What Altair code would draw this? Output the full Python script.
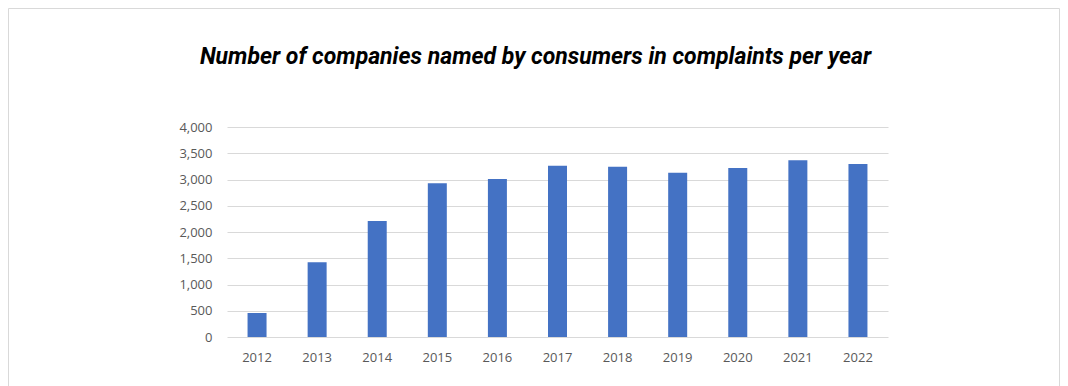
import altair as alt
import pandas as pd

years = ["2012", "2013", "2014", "2015", "2016", "2017", "2018", "2019", "2020", "2021", "2022"]
counts = [457, 1422, 2210, 2927, 3010, 3263, 3244, 3130, 3219, 3365, 3295]
y_ticks = [0, 500, 1000, 1500, 2000, 2500, 3000, 3500, 4000]
title_text = "Number of companies named by consumers in complaints per year"

df = pd.DataFrame({"year": years, "count": counts})
title_df = pd.DataFrame({"t": [title_text]})
frame_df = pd.DataFrame({"k": [1]})

W, H = 661, 210
PAD_L, PAD_T, PAD_R, PAD_B = 219, 119, 172, 49

label_font = "Open Sans"
label_color = "#595959"

bars = alt.Chart(df).mark_bar(width=19, color="#4472c4").encode(
    x=alt.X(
        "year:N",
        sort=years,
        scale=alt.Scale(paddingInner=0, paddingOuter=0),
        axis=alt.Axis(
            title=None, labelAngle=0, ticks=False, domain=False,
            labelPadding=14, labelFontSize=13, labelColor=label_color,
            labelFont=label_font, grid=False,
        ),
    ),
    y=alt.Y(
        "count:Q",
        scale=alt.Scale(domain=[0, 4000], nice=False),
        axis=alt.Axis(
            title=None, values=y_ticks, format=",.0f", ticks=False, domain=False,
            labelPadding=15, labelFontSize=13, labelColor=label_color,
            labelFont=label_font, grid=True, gridColor="#d9d9d9", gridWidth=1,
        ),
    ),
)

title = alt.Chart(title_df).mark_text(
    font="Roboto", fontSize=23, fontWeight="bold", fontStyle="italic",
    color="#000000", align="center", baseline="alphabetic",
).encode(
    text="t:N",
    x=alt.value(308.5),
    y=alt.value(-63),
)

frame = alt.Chart(frame_df).mark_rect(
    fill=None, stroke="#d9d9d9", strokeWidth=1
).encode(
    x=alt.value(-PAD_L + 0.5),
    x2=alt.value(W + PAD_R - 0.5),
    y=alt.value(-PAD_T + 0.5),
    y2=alt.value(H + PAD_B + 20),
)

chart = alt.layer(frame, bars, title).properties(
    width=W,
    height=H,
    autosize=alt.AutoSizeParams(type="none"),
    padding={"left": PAD_L, "top": PAD_T, "right": PAD_R, "bottom": PAD_B},
    background="#ffffff",
).configure_view(stroke=None)

chart.save("out.html", embed_options={"renderer": "svg", "actions": False})
